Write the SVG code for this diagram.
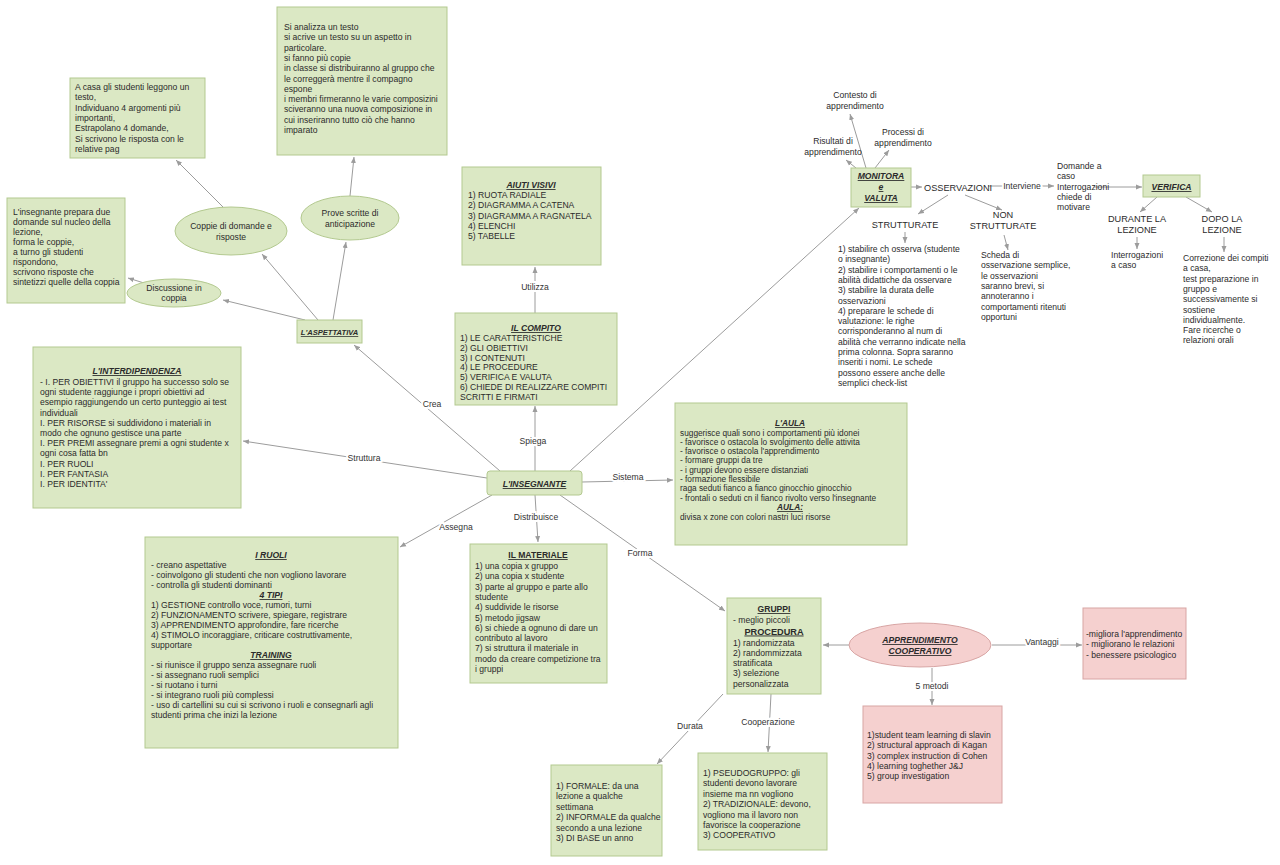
<svg xmlns="http://www.w3.org/2000/svg" width="1280" height="865" viewBox="0 0 1280 865">
<style>
.box{fill:#dbe8c4;stroke:#b3c98f;stroke-width:1}
.pink{fill:#f5d0cf;stroke:#d8a5a4;stroke-width:1}
.t{font-family:"Liberation Sans",Arial,sans-serif;font-size:8.6px;fill:#2b2b2b}
.s{font-size:8.3px}
.b{font-size:9.2px}
.h{font-weight:bold;font-style:italic;text-decoration:underline}
.hb{font-weight:bold;text-decoration:underline}
.c{text-anchor:middle}
.lbl{font-family:"Liberation Sans",Arial,sans-serif;font-size:8.6px;fill:#333;text-anchor:middle;paint-order:stroke;stroke:#fff;stroke-width:4px}
.e{stroke:#9c9c9c;stroke-width:1;fill:none;marker-end:url(#a)}
</style>
<defs>
<marker id="a" markerWidth="7" markerHeight="6" refX="6" refY="3" orient="auto" markerUnits="userSpaceOnUse">
<path d="M0,0.5 L6,3 L0,5.5 z" fill="#9c9c9c"/>
</marker>
</defs>
<rect width="1280" height="865" fill="#fff"/>

<g id="connectors">
<line class="e" x1="500" y1="471" x2="354" y2="345"/>
<line class="e" x1="535" y1="471" x2="535" y2="406"/>
<line class="e" x1="535" y1="313" x2="535" y2="267"/>
<line class="e" x1="487" y1="478" x2="243" y2="441"/>
<line class="e" x1="582" y1="482" x2="673" y2="480"/>
<line class="e" x1="492" y1="495" x2="400" y2="547"/>
<line class="e" x1="535" y1="495" x2="538" y2="542"/>
<line class="e" x1="560" y1="495" x2="725" y2="611"/>
<line class="e" x1="570" y1="471" x2="859" y2="208"/>
<line class="e" x1="305" y1="320" x2="223" y2="300"/>
<line class="e" x1="318" y1="320" x2="262" y2="254"/>
<line class="e" x1="333" y1="320" x2="346" y2="242"/>
<line class="e" x1="350" y1="196" x2="354" y2="157"/>
<line class="e" x1="223" y1="207" x2="176" y2="160"/>
<line class="e" x1="144" y1="283" x2="128" y2="278"/>
<line class="e" x1="866" y1="168" x2="850" y2="114"/>
<line class="e" x1="856" y1="168" x2="846" y2="160"/>
<line class="e" x1="875" y1="168" x2="889" y2="150"/>
<line class="e" x1="911" y1="187" x2="922" y2="187"/>
<line class="e" x1="948" y1="195" x2="918" y2="214"/>
<line class="e" x1="965" y1="195" x2="1002" y2="210"/>
<line class="e" x1="988" y1="186" x2="1054" y2="186"/>
<line class="e" x1="1094" y1="187" x2="1142" y2="187"/>
<line class="e" x1="1157" y1="197" x2="1140" y2="212"/>
<line class="e" x1="1186" y1="197" x2="1212" y2="212"/>
<line class="e" x1="905" y1="232" x2="905" y2="243"/>
<line class="e" x1="1004" y1="235" x2="1008" y2="250"/>
<line class="e" x1="1137" y1="237" x2="1137" y2="249"/>
<line class="e" x1="1224" y1="237" x2="1224" y2="252"/>
<line class="e" x1="723" y1="694" x2="657" y2="764"/>
<line class="e" x1="771" y1="694" x2="768" y2="752"/>
<line class="e" x1="849" y1="645" x2="823" y2="645"/>
<line class="e" x1="932" y1="668" x2="932" y2="705"/>
<line class="e" x1="992" y1="645" x2="1082" y2="645"/>
<text class="lbl" x="432" y="407">Crea</text>
<text class="lbl" x="533" y="444">Spiega</text>
<text class="lbl" x="535" y="290">Utilizza</text>
<text class="lbl" x="364" y="461">Struttura</text>
<text class="lbl" x="628" y="480">Sistema</text>
<text class="lbl" x="456" y="530">Assegna</text>
<text class="lbl" x="536" y="520">Distribuisce</text>
<text class="lbl" x="640" y="556">Forma</text>
<text class="lbl" x="1022" y="189">Interviene</text>
<text class="lbl" x="690" y="729">Durata</text>
<text class="lbl" x="768" y="725">Cooperazione</text>
<text class="lbl" x="932" y="689">5 metodi</text>
<text class="lbl" x="1042" y="645">Vantaggi</text>
</g>

<g id="n-acasa">
<rect class="box" x="70" y="78" width="135" height="80"/>
<text class="t" x="75" y="90"><tspan x="75">A casa gli studenti leggono un</tspan><tspan x="75" dy="10.3">testo,</tspan><tspan x="75" dy="10.3">Individuano 4 argomenti più</tspan><tspan x="75" dy="10.3">importanti,</tspan><tspan x="75" dy="10.3">Estrapolano 4 domande,</tspan><tspan x="75" dy="10.3">Si scrivono le risposta con le</tspan><tspan x="75" dy="10.3">relative pag</tspan></text>
</g>

<g id="n-analizza">
<rect class="box" x="277" y="7" width="170" height="148"/>
<text class="t" x="284" y="30"><tspan x="284">Si analizza un testo</tspan><tspan x="284" dy="10.3">si acrive un testo su un aspetto in</tspan><tspan x="284" dy="10.3">particolare.</tspan><tspan x="284" dy="10.3">si fanno più copie</tspan><tspan x="284" dy="10.3">in classe si distribuiranno al gruppo che</tspan><tspan x="284" dy="10.3">le correggerà mentre il compagno</tspan><tspan x="284" dy="10.3">espone</tspan><tspan x="284" dy="10.3">i membri firmeranno le varie composizini</tspan><tspan x="284" dy="10.3">sciveranno una nuova composizione in</tspan><tspan x="284" dy="10.3">cui inseriranno tutto ciò che hanno</tspan><tspan x="284" dy="10.3">imparato</tspan></text>
</g>

<g id="n-prepara">
<rect class="box" x="7" y="198" width="118" height="105"/>
<text class="t" x="13" y="215"><tspan x="13">L'insegnante prepara due</tspan><tspan x="13" dy="10">domande sul nucleo della</tspan><tspan x="13" dy="10">lezione,</tspan><tspan x="13" dy="10">forma le coppie,</tspan><tspan x="13" dy="10">a turno gli studenti</tspan><tspan x="13" dy="10">rispondono,</tspan><tspan x="13" dy="10">scrivono risposte che</tspan><tspan x="13" dy="10">sintetizzi quelle della coppia</tspan></text>
</g>

<g id="n-coppie">
<ellipse class="box" cx="231" cy="231" rx="56" ry="24"/>
<text class="t c" x="231" y="229">Coppie di domande e<tspan x="231" dy="11">risposte</tspan></text>
</g>

<g id="n-prove">
<ellipse class="box" cx="350" cy="218" rx="49" ry="22"/>
<text class="t c" x="350" y="216">Prove scritte di<tspan x="350" dy="11">anticipazione</tspan></text>
</g>

<g id="n-discussione">
<ellipse class="box" cx="174" cy="293" rx="47" ry="14"/>
<text class="t c" x="174" y="291">Discussione in<tspan x="174" dy="10">coppia</tspan></text>
</g>

<g id="n-aspettativa">
<rect class="box" x="297" y="320" width="65" height="23"/>
<text class="t h c" x="329.5" y="335" style="font-size:7.6px">L'ASPETTATIVA</text>
</g>

<g id="n-aiuti">
<rect class="box" x="462" y="167" width="139" height="98"/>
<text class="t h c" x="531" y="188">AIUTI VISIVI</text>
<text class="t" x="468" y="198"><tspan x="468">1) RUOTA RADIALE</tspan><tspan x="468" dy="10.3">2) DIAGRAMMA A CATENA</tspan><tspan x="468" dy="10.3">3) DIAGRAMMA A RAGNATELA</tspan><tspan x="468" dy="10.3">4) ELENCHI</tspan><tspan x="468" dy="10.3">5) TABELLE</tspan></text>
</g>

<g id="n-compito">
<rect class="box" x="455" y="313" width="162" height="92"/>
<text class="t h c" x="536" y="331">IL COMPITO</text>
<text class="t" x="460" y="341"><tspan x="460">1) LE CARATTERISTICHE</tspan><tspan x="460" dy="9.8">2) GLI OBIETTIVI</tspan><tspan x="460" dy="9.8">3) I CONTENUTI</tspan><tspan x="460" dy="9.8">4) LE PROCEDURE</tspan><tspan x="460" dy="9.8">5) VERIFICA E VALUTA</tspan><tspan x="460" dy="9.8">6) CHIEDE DI REALIZZARE COMPITI</tspan><tspan x="460" dy="9.8">SCRITTI E FIRMATI</tspan></text>
</g>

<g id="n-interdipendenza">
<rect class="box" x="33" y="347" width="208" height="161"/>
<text class="t h c" x="137" y="374">L'INTERDIPENDENZA</text>
<text class="t" x="40" y="385"><tspan x="40">- I. PER OBIETTIVI il gruppo ha successo solo se</tspan><tspan x="40" dy="10.2">ogni studente raggiunge i propri obiettivi ad</tspan><tspan x="40" dy="10.2">esempio raggiungendo un certo punteggio ai test</tspan><tspan x="40" dy="10.2">individuali</tspan><tspan x="40" dy="10.2">I. PER RISORSE si suddividono i materiali in</tspan><tspan x="40" dy="10.2">modo che ognuno gestisce una parte</tspan><tspan x="40" dy="10.2">I. PER PREMI assegnare premi a ogni studente x</tspan><tspan x="40" dy="10.2">ogni cosa fatta bn</tspan><tspan x="40" dy="10.2">I. PER RUOLI</tspan><tspan x="40" dy="10.2">I. PER FANTASIA</tspan><tspan x="40" dy="10.2">I. PER IDENTITA'</tspan></text>
</g>

<g id="n-insegnante">
<rect class="box" x="487" y="471" width="95" height="24" rx="3"/>
<text class="t h c" x="534.5" y="487">L'INSEGNANTE</text>
</g>

<g id="n-aula">
<rect class="box" x="675" y="403" width="232" height="142"/>
<text class="t s h c" x="790" y="426">L'AULA</text>
<text class="t s" x="680" y="435.5"><tspan x="680">suggerisce quali sono i comportamenti più idonei</tspan><tspan x="680" dy="9.3">- favorisce o ostacola lo svolgimento delle attivita</tspan><tspan x="680" dy="9.3">- favorisce o ostacola l'apprendimento</tspan><tspan x="680" dy="9.3">- formare gruppi da tre</tspan><tspan x="680" dy="9.3">- i gruppi devono essere distanziati</tspan><tspan x="680" dy="9.3">- formazione flessibile</tspan><tspan x="680" dy="9.3">raga seduti fianco a fianco ginocchio ginocchio</tspan><tspan x="680" dy="9.3">- frontali o seduti cn il fianco rivolto verso l'insegnante</tspan></text>
<text class="t s h c" x="790" y="510">AULA:</text>
<text class="t s" x="680" y="519.5">divisa x zone con colori nastri luci risorse</text>
</g>

<g id="n-ruoli">
<rect class="box" x="145" y="537" width="253" height="211"/>
<text class="t h c" x="271" y="558">I RUOLI</text>
<text class="t" x="151" y="568"><tspan x="151">- creano aspettative</tspan><tspan x="151" dy="10">- coinvolgono gli studenti che non vogliono lavorare</tspan><tspan x="151" dy="10">- controlla gli studenti dominanti</tspan></text>
<text class="t h c" x="271" y="598">4 TIPI</text>
<text class="t" x="151" y="608"><tspan x="151">1) GESTIONE controllo voce, rumori, turni</tspan><tspan x="151" dy="10">2) FUNZIONAMENTO scrivere, spiegare, registrare</tspan><tspan x="151" dy="10">3) APPRENDIMENTO approfondire, fare ricerche</tspan><tspan x="151" dy="10">4) STIMOLO incoraggiare, criticare costruttivamente,</tspan><tspan x="151" dy="10">supportare</tspan></text>
<text class="t h c" x="271" y="658">TRAINING</text>
<text class="t" x="151" y="668"><tspan x="151">- si riunisce il gruppo senza assegnare ruoli</tspan><tspan x="151" dy="10">- si assegnano ruoli semplici</tspan><tspan x="151" dy="10">- si ruotano i turni</tspan><tspan x="151" dy="10">- si integrano ruoli più complessi</tspan><tspan x="151" dy="10">- uso di cartellini su cui si scrivono i ruoli e consegnarli agli</tspan><tspan x="151" dy="10">studenti prima che inizi la lezione</tspan></text>
</g>

<g id="n-materiale">
<rect class="box" x="470" y="544" width="137" height="139"/>
<text class="t hb c" x="538" y="558">IL MATERIALE</text>
<text class="t" x="475" y="569"><tspan x="475">1) una copia x gruppo</tspan><tspan x="475" dy="10.3">2) una copia x studente</tspan><tspan x="475" dy="10.3">3) parte al gruppo e parte allo</tspan><tspan x="475" dy="10.3">studente</tspan><tspan x="475" dy="10.3">4) suddivide le risorse</tspan><tspan x="475" dy="10.3">5) metodo jigsaw</tspan><tspan x="475" dy="10.3">6) si chiede a ognuno di dare un</tspan><tspan x="475" dy="10.3">contributo al lavoro</tspan><tspan x="475" dy="10.3">7) si struttura il materiale in</tspan><tspan x="475" dy="10.3">modo da creare competizione tra</tspan><tspan x="475" dy="10.3">i gruppi</tspan></text>
</g>

<g id="n-gruppi">
<rect class="box" x="727" y="598" width="94" height="96"/>
<text class="t hb c" x="774" y="612">GRUPPI</text>
<text class="t" x="733" y="623">- meglio piccoli</text>
<text class="t hb c b" x="774" y="634.5">PROCEDURA</text>
<text class="t" x="733" y="645.5"><tspan x="733">1) randomizzata</tspan><tspan x="733" dy="10.3">2) randommizzata</tspan><tspan x="733" dy="10.3">stratificata</tspan><tspan x="733" dy="10.3">3) selezione</tspan><tspan x="733" dy="10.3">personalizzata</tspan></text>
</g>

<g id="n-apprendimento">
<ellipse class="pink" cx="920" cy="645" rx="71" ry="22"/>
<text class="t h c" x="920" y="643">APPRENDIMENTO<tspan x="920" dy="11">COOPERATIVO</tspan></text>
</g>

<g id="n-vantaggi">
<rect class="pink" x="1083" y="608" width="103" height="71"/>
<text class="t" x="1086" y="637"><tspan x="1086">-migliora l'apprendimento</tspan><tspan x="1086" dy="10.3">- migliorano le relazioni</tspan><tspan x="1086" dy="10.3">- benessere psicologico</tspan></text>
</g>

<g id="n-metodi">
<rect class="pink" x="863" y="706" width="139" height="97"/>
<text class="t" x="867" y="738"><tspan x="867">1)student team learning di slavin</tspan><tspan x="867" dy="10.3">2) structural approach di Kagan</tspan><tspan x="867" dy="10.3">3) complex instruction di Cohen</tspan><tspan x="867" dy="10.3">4) learning toghether J&amp;J</tspan><tspan x="867" dy="10.3">5) group investigation</tspan></text>
</g>

<g id="n-formale">
<rect class="box" x="551" y="765" width="111" height="91"/>
<text class="t" x="556" y="789"><tspan x="556">1) FORMALE: da una</tspan><tspan x="556" dy="10.4">lezione a qualche</tspan><tspan x="556" dy="10.4">settimana</tspan><tspan x="556" dy="10.4">2) INFORMALE da qualche</tspan><tspan x="556" dy="10.4">secondo a una lezione</tspan><tspan x="556" dy="10.4">3) DI BASE un anno</tspan></text>
</g>

<g id="n-pseudo">
<rect class="box" x="698" y="753" width="129" height="97"/>
<text class="t" x="703" y="776"><tspan x="703">1) PSEUDOGRUPPO: gli</tspan><tspan x="703" dy="10.4">studenti devono lavorare</tspan><tspan x="703" dy="10.4">insieme ma nn vogliono</tspan><tspan x="703" dy="10.4">2) TRADIZIONALE: devono,</tspan><tspan x="703" dy="10.4">vogliono ma il lavoro non</tspan><tspan x="703" dy="10.4">favorisce la cooperazione</tspan><tspan x="703" dy="10.4">3) COOPERATIVO</tspan></text>
</g>

<g id="n-monitora">
<rect class="box" x="851" y="168" width="60" height="39"/>
<text class="t h c" x="881" y="179">MONITORA<tspan x="881" dy="11">e</tspan><tspan x="881" dy="11">VALUTA</tspan></text>
</g>

<g id="n-contesto"><text class="t c" x="855" y="98">Contesto di<tspan x="855" dy="10.5">apprendimento</tspan></text></g>
<g id="n-risultati"><text class="t c" x="833" y="144">Risultati di<tspan x="833" dy="10.5">apprendimento</tspan></text></g>
<g id="n-processi"><text class="t c" x="903" y="135">Processi di<tspan x="903" dy="10.5">apprendimento</tspan></text></g>
<g id="n-osservazioni"><text class="t b" x="924" y="191">OSSERVAZIONI</text></g>
<g id="n-domande"><text class="t" x="1057" y="169"><tspan x="1057">Domande a</tspan><tspan x="1057" dy="10.3">caso</tspan><tspan x="1057" dy="10.3">Interrogazioni</tspan><tspan x="1057" dy="10.3">chiede di</tspan><tspan x="1057" dy="10.3">motivare</tspan></text></g>

<g id="n-verifica">
<rect class="box" x="1143" y="175" width="57" height="22"/>
<text class="t h c" x="1171.5" y="190">VERIFICA</text>
</g>

<g id="n-strutturate"><text class="t b c" x="905" y="228">STRUTTURATE</text></g>
<g id="n-nonstrutturate"><text class="t b c" x="1003" y="218">NON<tspan x="1003" dy="11">STRUTTURATE</tspan></text></g>
<g id="n-strutt-text"><text class="t" x="838" y="252"><tspan x="838">1) stabilire ch osserva (studente</tspan><tspan x="838" dy="10.3">o insegnante)</tspan><tspan x="838" dy="10.3">2) stabilire i comportamenti o le</tspan><tspan x="838" dy="10.3">abilità didattiche da osservare</tspan><tspan x="838" dy="10.3">3) stabilire la durata delle</tspan><tspan x="838" dy="10.3">osservazioni</tspan><tspan x="838" dy="10.3">4) preparare le schede di</tspan><tspan x="838" dy="10.3">valutazione: le righe</tspan><tspan x="838" dy="10.3">corrisponderanno al num di</tspan><tspan x="838" dy="10.3">abilità che verranno indicate nella</tspan><tspan x="838" dy="10.3">prima colonna. Sopra saranno</tspan><tspan x="838" dy="10.3">inseriti i nomi. Le schede</tspan><tspan x="838" dy="10.3">possono essere anche delle</tspan><tspan x="838" dy="10.3">semplici check-list</tspan></text></g>
<g id="n-scheda"><text class="t" x="981" y="258"><tspan x="981">Scheda di</tspan><tspan x="981" dy="10.3">osservazione semplice,</tspan><tspan x="981" dy="10.3">le osservazioni</tspan><tspan x="981" dy="10.3">saranno brevi, si</tspan><tspan x="981" dy="10.3">annoteranno i</tspan><tspan x="981" dy="10.3">comportamenti ritenuti</tspan><tspan x="981" dy="10.3">opportuni</tspan></text></g>
<g id="n-durante"><text class="t b c" x="1137" y="222">DURANTE LA<tspan x="1137" dy="11">LEZIONE</tspan></text></g>
<g id="n-dopo"><text class="t b c" x="1222" y="222">DOPO LA<tspan x="1222" dy="11">LEZIONE</tspan></text></g>
<g id="n-interrogazioni"><text class="t" x="1111" y="258"><tspan x="1111">Interrogazioni</tspan><tspan x="1111" dy="10.3">a caso</tspan></text></g>
<g id="n-correzione"><text class="t" x="1183" y="261"><tspan x="1183">Correzione dei compiti</tspan><tspan x="1183" dy="10.3">a casa,</tspan><tspan x="1183" dy="10.3">test preparazione in</tspan><tspan x="1183" dy="10.3">gruppo e</tspan><tspan x="1183" dy="10.3">successivamente si</tspan><tspan x="1183" dy="10.3">sostiene</tspan><tspan x="1183" dy="10.3">individualmente.</tspan><tspan x="1183" dy="10.3">Fare ricerche o</tspan><tspan x="1183" dy="10.3">relazioni orali</tspan></text></g>
</svg>
